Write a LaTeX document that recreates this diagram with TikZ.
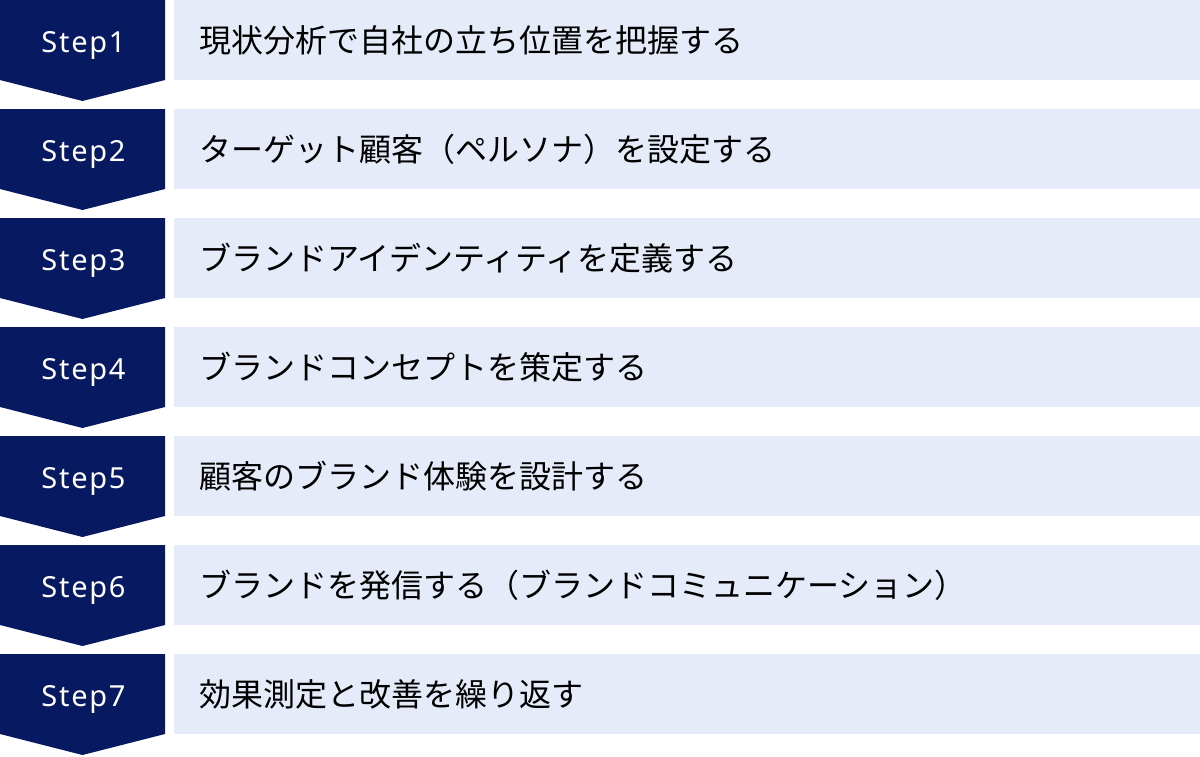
\documentclass[tikz,border=0pt]{standalone}
\usepackage{fontspec}
\newfontfamily\jpfont{Noto Sans CJK JP}
\newfontfamily\latfont[LetterSpace=6]{Noto Sans}
\definecolor{navy}{HTML}{071960}
\definecolor{pale}{HTML}{E5EBF8}
\begin{document}
\begin{tikzpicture}[x=1pt,y=-1pt,
  chevron/.style={fill=navy},
  steplabel/.style={text=white,font=\latfont\fontsize{29pt}{29pt}\selectfont,inner sep=0pt,anchor=base},
  bar/.style={fill=pale,anchor=north west,minimum height=80pt,text width=976pt,
    inner xsep=25pt,inner ysep=0pt,align=left,text=black,
    font=\jpfont\fontsize{32pt}{32pt}\selectfont}]
\useasboundingbox (0,0) rectangle (1200,756);
\foreach \k/\t in {1/現状分析で自社の立ち位置を把握する,
                   2/ターゲット顧客（ペルソナ）を設定する,
                   3/ブランドアイデンティティを定義する,
                   4/ブランドコンセプトを策定する,
                   5/顧客のブランド体験を設計する,
                   6/ブランドを発信する（ブランドコミュニケーション）,
                   7/効果測定と改善を繰り返す}{
  \pgfmathsetmacro\yy{109*(\k-1)}
  \fill[chevron] (0,\yy) -- (165,\yy) -- (165,\yy+80) -- (82.5,\yy+101) -- (0,\yy+80) -- cycle;
  \node[steplabel] (s\k) at (83.5,\yy+52) {Step\k};
  \node[bar] (b\k) at (174,\yy) {\t};
}
\end{tikzpicture}
\end{document}
